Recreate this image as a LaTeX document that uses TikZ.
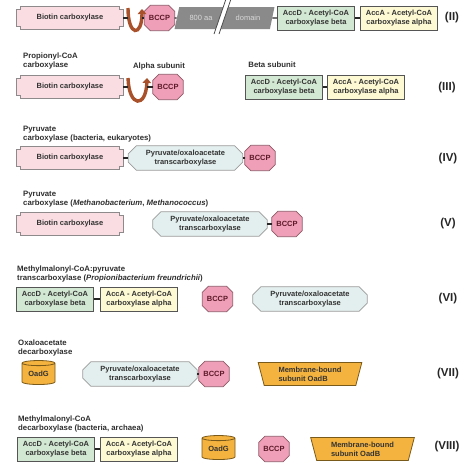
\documentclass[tikz,border=0pt]{standalone}
\usepackage{fontspec}
\setmainfont{Liberation Sans}
\usetikzlibrary{arrows.meta,positioning,shapes.geometric,calc,backgrounds}
\definecolor{bcfill}{HTML}{F9DDE2}
\definecolor{bcline}{HTML}{8E8A8B}
\definecolor{bccpfill}{HTML}{EF9FB7}
\definecolor{bccpline}{HTML}{8E5A68}
\definecolor{bccptext}{HTML}{5C1A2A}
\definecolor{accdfill}{HTML}{D3E8D3}
\definecolor{accafill}{HTML}{FDF9D3}
\definecolor{accline}{HTML}{555555}
\definecolor{pyrfill}{HTML}{E3EFEE}
\definecolor{pyrline}{HTML}{9A9A9A}
\definecolor{oadfill}{HTML}{F4B23E}
\definecolor{oadline}{HTML}{7A5A1A}
\definecolor{domfill}{HTML}{8A8A8A}
\definecolor{loopcol}{HTML}{A8512A}
\definecolor{captext}{HTML}{2E2E2E}
\newcommand{\boxfont}{\fontsize{7.5}{9}\selectfont\bfseries}
\newcommand{\capfont}{\fontsize{7.8}{9}\selectfont\bfseries}
% notched outline behind a biotin carboxylase node
\newcommand{\notchbox}[1]{%
  \begin{scope}[on background layer]
    \draw[draw=bcline,fill=bcfill,line width=0.8pt]
      ($(#1.north west)+(3.5,0)$) -- ($(#1.north east)+(-3.5,0)$)
      -- ++(0,3.5) -- ++(3.5,0) -- ($(#1.south east)+(0,-3.5)$) -- ++(-3.5,0)
      -- ++(0,3.5) -- ($(#1.south west)+(3.5,0)$) -- ++(0,-3.5) -- ++(-3.5,0)
      -- ($(#1.north west)+(0,3.5)$) -- ++(3.5,0) -- cycle;
  \end{scope}}
% pointed outline behind a node: #1 node, #2 cut, #3 colours
\newcommand{\hexbox}[3]{%
  \begin{scope}[on background layer]
    \draw[line width=0.8pt,#3]
      ($(#1.north west)+(#2,0)$) -- ($(#1.north east)+(-#2,0)$)
      -- ($(#1.north east)+(0,#2)$) -- ($(#1.south east)+(0,-#2)$)
      -- ($(#1.south east)+(-#2,0)$) -- ($(#1.south west)+(#2,0)$)
      -- ($(#1.south west)+(0,-#2)$) -- ($(#1.north west)+(0,#2)$) -- cycle;
  \end{scope}}

\begin{document}
\begin{tikzpicture}[x=1pt,y=-1pt,
  bc/.style={rectangle,minimum width=106,minimum height=23,inner sep=0,
             font=\boxfont,text=black!80},
  bccp/.style={rectangle,text=bccptext,minimum width=30,minimum height=25,
               inner sep=0,font=\boxfont},
  pyr/.style={rectangle,text=black!80,minimum width=114,minimum height=24,
              inner sep=0,font=\boxfont,align=center},
  accd/.style={rectangle,draw=accline,fill=accdfill,text=black!80,
               minimum width=77,minimum height=24,inner sep=0,
               line width=0.8pt,font=\boxfont,align=center},
  acca/.style={accd,fill=accafill},
  oadg/.style={cylinder,shape border rotate=90,aspect=0.25,draw=oadline,
               fill=oadfill,minimum width=33,minimum height=24,inner sep=0,
               line width=0.8pt,font=\boxfont,text=black!80},
  memb/.style={trapezium,trapezium stretches=true,shape border rotate=180,
               trapezium angle=74,draw=oadline,fill=oadfill,minimum width=104,
               minimum height=23,inner sep=0,line width=0.8pt,font=\boxfont,
               text=black!80,align=left},
  dom/.style={trapezium,trapezium stretches=true,trapezium left angle=65,
              trapezium right angle=115,fill=domfill,minimum width=53,
              minimum height=22,inner sep=0,
              font=\fontsize{7.5}{8}\selectfont,text=black!15},
  caption/.style={anchor=north west,inner sep=0,align=left,font=\capfont,
                  text=captext},
  subunit/.style={inner sep=0,font=\capfont,text=captext},
  roman/.style={font=\fontsize{11.5}{13}\selectfont\bfseries,text=black!85},
  link/.style={draw=black!85,line width=1.3pt},
  looparr/.style={draw=loopcol,line width=3.4pt,
                  -{Triangle[length=5pt,width=8.5pt]}},
  bccpcol/.style={draw=bccpline,fill=bccpfill},
  pyrcol/.style={draw=pyrline,fill=pyrfill}
]
\useasboundingbox (0,0) rectangle (474,474);

% ---- (II) ------------------------------------------------------
\node[bc] (bc2) at (70,18) {Biotin carboxylase};
\notchbox{bc2}
\coordinate (lp2in) at (128,18);
\coordinate (lp2out) at (142,18);
\draw[looparr] (128,8) .. controls (128,37) and (142,37) .. (142,9);
\node[bccp] (bccp2) at (159.5,18) {BCCP};
\hexbox{bccp2}{6}{bccpcol}
\node[dom] (d800) at (201,18) {800 aa};
\node[dom] (ddom) at (248,18) {domain};
\node[accd] (accd2) at (316,18) {AccD - Acetyl-CoA\\carboxylase beta};
\node[acca] (acca2) at (399,18) {AccA - Acetyl-CoA\\carboxylase alpha};
\node[roman] (r2) at (452,18) {(II)};
\draw[link] (bc2.east) -- (lp2in);
\draw[link] (lp2out) -- (bccp2.west);
\draw[link] (bccp2.east) -- (d800.west);
\draw[link] (ddom.east) -- (accd2.west);
\draw[link] (accd2.east) -- (acca2.west);
% break mark
\fill[white] (214,34) -- (226,-1) -- (231,-1) -- (219,34) -- cycle;
\draw[black!70,line width=0.8pt] (214,34) -- (226,-1) (219,34) -- (231,-1);

% ---- (III) -----------------------------------------------------
\node[caption] (c3) at (23,53) {Propionyl-CoA\\carboxylase};
\node[subunit] (alpha3) at (159,66) {Alpha subunit};
\node[subunit] (beta3) at (272,65) {Beta subunit};
\node[bc] (bc3) at (70,87) {Biotin carboxylase};
\notchbox{bc3}
\coordinate (lp3in) at (128,87);
\coordinate (lp3out) at (147,87);
\draw[looparr] (128,78) .. controls (129,108) and (146,108) .. (147,78);
\node[bccp] (bccp3) at (168,87) {BCCP};
\hexbox{bccp3}{6}{bccpcol}
\node[accd] (accd3) at (284,87) {AccD - Acetyl-CoA\\carboxylase beta};
\node[acca] (acca3) at (366,87) {AccA - Acetyl-CoA\\carboxylase alpha};
\node[roman] (r3) at (447,88) {(III)};
\draw[link] (bc3.east) -- (lp3in);
\draw[link] (lp3out) -- (bccp3.west);
\draw[link] (accd3.east) -- (acca3.west);

% ---- (IV) ------------------------------------------------------
\node[caption] (c4) at (23,126) {Pyruvate\\carboxylase (bacteria, eukaryotes)};
\node[bc] (bc4) at (70,158) {Biotin carboxylase};
\notchbox{bc4}
\node[pyr] (pyr4) at (185.5,158) {Pyruvate/oxaloacetate\\transcarboxylase};
\hexbox{pyr4}{8}{pyrcol}
\node[bccp] (bccp4) at (260,158) {BCCP};
\hexbox{bccp4}{6}{bccpcol}
\node[roman] (r4) at (448,159) {(IV)};
\draw[link] (bc4.east) -- (pyr4.west);
\draw[link] (pyr4.east) -- (bccp4.west);

% ---- (V) -------------------------------------------------------
\node[caption] (c5) at (23,191)
  {Pyruvate\\carboxylase (\textit{Methanobacterium}, \textit{Methanococcus})};
\node[bc] (bc5) at (70,224) {Biotin carboxylase};
\notchbox{bc5}
\node[pyr] (pyr5) at (210,224) {Pyruvate/oxaloacetate\\transcarboxylase};
\hexbox{pyr5}{8}{pyrcol}
\node[bccp] (bccp5) at (287,224) {BCCP};
\hexbox{bccp5}{6}{bccpcol}
\node[roman] (r5) at (448,224) {(V)};
\draw[link] (pyr5.east) -- (bccp5.west);

% ---- (VI) ------------------------------------------------------
\node[caption] (c6) at (17,266)
  {Methylmalonyl-CoA:pyruvate\\transcarboxylase (\textit{Propionibacterium freundrichii})};
\node[accd] (accd6) at (55,299) {AccD - Acetyl-CoA\\carboxylase beta};
\node[acca] (acca6) at (139,299) {AccA - Acetyl-CoA\\carboxylase alpha};
\node[bccp] (bccp6) at (217.5,299) {BCCP};
\hexbox{bccp6}{6}{bccpcol}
\node[pyr] (pyr6) at (310,299) {Pyruvate/oxaloacetate\\transcarboxylase};
\hexbox{pyr6}{8}{pyrcol}
\node[roman] (r6) at (448,299) {(VI)};
\draw[link] (accd6.east) -- (acca6.west);

% ---- (VII) -----------------------------------------------------
\node[caption] (c7) at (18,340) {Oxaloacetate\\decarboxylase};
\node[oadg] (oadg7) at (38.5,374) {OadG};
\node[pyr] (pyr7) at (140,374) {Pyruvate/oxaloacetate\\transcarboxylase};
\hexbox{pyr7}{8}{pyrcol}
\node[bccp] (bccp7) at (214,374) {BCCP};
\hexbox{bccp7}{6}{bccpcol}
\node[memb] (memb7) at (310,374) {Membrane-bound\\subunit OadB};
\node[roman] (r7) at (448,374) {(VII)};
\draw[link] (pyr7.east) -- (bccp7.west);

% ---- (VIII) ----------------------------------------------------
\node[caption] (c8) at (18,416) {Methylmalonyl-CoA\\decarboxylase (bacteria, archaea)};
\node[accd] (accd8) at (56,449) {AccD - Acetyl-CoA\\carboxylase beta};
\node[acca] (acca8) at (139,449) {AccA - Acetyl-CoA\\carboxylase alpha};
\node[oadg] (oadg8) at (218.5,449) {OadG};
\node[bccp] (bccp8) at (274,449) {BCCP};
\hexbox{bccp8}{6}{bccpcol}
\node[memb] (memb8) at (362.5,449) {Membrane-bound\\subunit OadB};
\node[roman] (r8) at (447,447) {(VIII)};
\draw[link] (accd8.east) -- (acca8.west);

\end{tikzpicture}
\end{document}
